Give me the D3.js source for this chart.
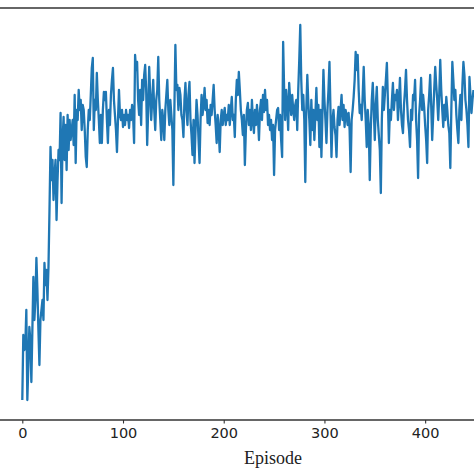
<!DOCTYPE html>
<html>
<head>
<meta charset="utf-8">
<script src="https://cdnjs.cloudflare.com/ajax/libs/d3/7.8.5/d3.min.js"></script>
<style>
  body { margin: 0; background: #fff; }
  svg { display: block; }
</style>
</head>
<body>
<div id="chart"></div>
<script>
// Reward per episode
var reward = [
  20, 85, 70, 75, 110, 20, 55, 93, 80, 38, 90, 143, 100, 120, 162, 130, 90, 55, 100, 110,
  120, 100, 157, 135, 150, 120, 153, 210, 273, 240, 260, 220, 245, 260, 200, 240, 270, 260, 307, 217,
  280, 303, 260, 295, 250, 305, 270, 300, 280, 290, 300, 275, 325, 257, 310, 300, 330, 310, 320, 290,
  315, 310, 290, 263, 253, 290, 310, 300, 325, 352, 362, 290, 320, 310, 347, 320, 300, 277, 305, 277,
  310, 328, 320, 328, 300, 277, 310, 295, 325, 340, 352, 320, 305, 290, 268, 300, 330, 305, 300, 310,
  293, 305, 295, 310, 300, 305, 292, 310, 300, 315, 305, 277, 365, 350, 358, 320, 305, 330, 295, 340,
  320, 345, 355, 330, 275, 310, 353, 325, 300, 320, 340, 310, 290, 320, 330, 363, 320, 300, 280, 310,
  300, 280, 310, 325, 340, 310, 295, 320, 305, 290, 235, 310, 375, 330, 335, 310, 332, 325, 305, 300,
  283, 320, 337, 310, 295, 325, 338, 300, 285, 265, 300, 257, 290, 320, 305, 280, 257, 300, 325, 305,
  315, 332, 310, 320, 297, 310, 295, 315, 305, 320, 335, 310, 295, 277, 305, 290, 268, 300, 310, 295,
  305, 312, 295, 305, 300, 315, 295, 310, 323, 300, 305, 283, 320, 340, 325, 348, 330, 310, 300, 285,
  305, 255, 290, 310, 317, 295, 310, 290, 320, 300, 287, 310, 295, 315, 302, 280, 310, 320, 300, 325,
  308, 330, 310, 320, 295, 305, 290, 300, 280, 295, 245, 290, 300, 310, 312, 290, 305, 280, 263, 378,
  330, 300, 330, 315, 290, 337, 320, 305, 325, 310, 300, 315, 320, 290, 330, 360, 395, 340, 310, 325,
  300, 238, 310, 345, 317, 300, 275, 320, 290, 310, 280, 305, 332, 300, 315, 273, 310, 263, 305, 350,
  320, 300, 277, 310, 330, 358, 310, 263, 300, 310, 293, 285, 263, 300, 313, 295, 310, 325, 300, 315,
  293, 310, 305, 295, 307, 290, 248, 300, 310, 323, 340, 368, 350, 365, 330, 307, 315, 300, 325, 353,
  320, 300, 273, 310, 295, 240, 290, 320, 337, 310, 280, 315, 333, 300, 285, 270, 227, 300, 333, 310,
  325, 340, 357, 320, 277, 310, 300, 320, 337, 310, 325, 320, 330, 300, 320, 342, 310, 295, 287, 315,
  330, 350, 320, 300, 290, 273, 310, 300, 325, 320, 340, 300, 280, 242, 305, 320, 342, 310, 325, 313,
  295, 280, 257, 310, 325, 345, 315, 280, 305, 330, 353, 335, 320, 300, 325, 360, 330, 310, 293, 315,
  300, 323, 310, 295, 287, 252, 310, 358, 340, 320, 330, 305, 290, 277, 310, 325, 300, 335, 358, 345,
  320, 310, 295, 273, 343, 325, 307, 320, 330
];
var episodes = reward.map(function(d, i) { return i; });
var xTicks = [0, 100, 200, 300, 400];

var width = 474, height = 474;

var svg = d3.select("#chart").append("svg")
    .attr("width", width).attr("height", height);

// scales (plot runs past the right edge of the picture)
var x = d3.scaleLinear().domain([0, 450]).range([22.3, 475.5]);
var y = d3.scaleLinear().domain([0, 412]).range([420, 8]);

svg.append("clipPath").attr("id", "clip")
  .append("rect").attr("x", 0).attr("y", 0).attr("width", width).attr("height", 420);

var line = d3.line()
    .x(function(d, i) { return x(episodes[i]); })
    .y(function(d) { return y(d); });

svg.append("path")
    .datum(reward)
    .attr("clip-path", "url(#clip)")
    .attr("fill", "none")
    .attr("stroke", "#1f77b4")
    .attr("stroke-width", 2.3)
    .attr("stroke-linejoin", "round")
    .attr("d", line);

// top spine
svg.append("line")
    .attr("x1", 0).attr("x2", width)
    .attr("y1", y(412)).attr("y2", y(412))
    .attr("stroke", "#333").attr("stroke-width", 1.4);

// bottom axis
var xAxis = d3.axisBottom(x).tickValues(xTicks).tickSize(3.5).tickPadding(4).tickSizeOuter(0);
var gx = svg.append("g").attr("transform", "translate(0," + y(0) + ")").call(xAxis);
gx.select(".domain").remove();
gx.append("line").attr("x1", 0).attr("x2", width).attr("stroke", "#333").attr("stroke-width", 1.4);
gx.selectAll(".tick line").attr("stroke", "#333").attr("stroke-width", 1.1);
gx.selectAll(".tick text")
    .attr("fill", "#222")
    .style("font-family", "'DejaVu Sans', sans-serif")
    .style("font-size", "14.5px");

svg.append("text")
    .attr("x", 273).attr("y", 464)
    .attr("text-anchor", "middle")
    .style("font-family", "'Liberation Serif', serif")
    .style("font-size", "18px")
    .attr("fill", "#222")
    .text("Episode");
</script>
</body>
</html>
